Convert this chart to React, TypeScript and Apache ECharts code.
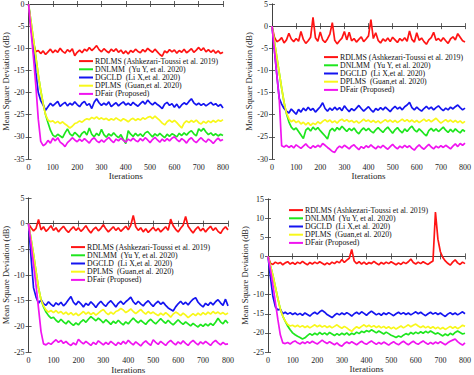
import React, { useEffect, useRef } from "react";
import * as echarts from "echarts";

const METHODS = [
  "RDLMS (Ashkezari-Toussi et al. 2019)",
  "DNLMM  (Yu Y, et al. 2020)",
  "DGCLD  (Li X,et al. 2020)",
  "DPLMS  (Guan,et al. 2020)",
  "DFair (Proposed)",
];
const COLORS = ["#ff1414", "#1ee61e", "#1414f0", "#f8f81a", "#f014f0"];

// iterations 0..800 sampled every 10
const ITERATIONS = Array.from({ length: 81 }, (_, i) => i * 10);
const X_TICKS = [0, 100, 200, 300, 400, 500, 600, 700, 800];

// ---------- Panel 1 (top-left) ----------
const P1_RDLMS = [0,-5.5,-9,-10.8,-10.5,-11.2,-10.6,-11.4,-10.8,-10.2,-11,-10.4,-10.9,-10,-10.7,-11.1,-10.3,-10.8,-10.1,-11.7,-10.9,-10.4,-11,-10.2,-10.6,-9.8,-10.5,-10,-9.4,-10.3,-10.8,-10.1,-10.6,-11,-10.2,-10.7,-10.1,-10.9,-10.4,-11.2,-10.6,-11.3,-10.5,-10.9,-10.2,-10.7,-11,-10.3,-10.8,-10,-10.5,-10.9,-10.2,-10.8,-11.4,-11.8,-10.6,-11,-10.3,-10.8,-10.4,-11.1,-10.5,-10.9,-10.2,-11,-10.6,-10.1,-10.9,-10.4,-9.8,-10.5,-9.9,-10.8,-10.3,-10.9,-10.4,-11.1,-10.6,-11.2,-10.9];
const P1_DNLMM = [0,-4,-8,-12,-16,-19.5,-22.5,-25,-26.8,-28.5,-29.6,-30,-29.4,-29.8,-30.2,-29.1,-28.2,-29.3,-29.8,-29,-29.5,-30.1,-29.2,-28.8,-29.6,-28,-29.4,-30,-29.2,-29.7,-28.3,-29.5,-30.1,-29.3,-29.8,-29.1,-29.7,-30.2,-29.5,-30.6,-31.5,-28.6,-29.4,-29.9,-29.2,-29.8,-29.3,-29.9,-29.1,-28.8,-29.4,-30,-29.3,-29.8,-29.2,-29.7,-30.2,-29.4,-29.9,-29.3,-29.6,-30,-29.2,-29.7,-29.1,-29.6,-29,-28.6,-29.3,-29.8,-28.2,-28.7,-28.1,-28.9,-29.5,-29.1,-29.7,-29.3,-29.8,-29.4,-29.7];
const P1_DGCLD = [0,-5,-10,-15.5,-20,-21.8,-22.8,-24,-23.2,-22.4,-23,-22.5,-22,-23.1,-22.6,-22.2,-23,-22.4,-22.8,-22.1,-22.7,-23.2,-22.4,-22,-22.9,-22.5,-23.6,-22.2,-21.4,-22.3,-22.9,-22.4,-22.8,-22.1,-23.2,-22.7,-22.3,-23,-22.5,-22.1,-22.8,-22.4,-22.9,-22.2,-22.7,-23.1,-22.5,-22,-22.6,-21.7,-22.3,-22.8,-22.2,-22.7,-23.1,-23.6,-22.6,-22.2,-22.9,-22.5,-23.3,-22.6,-23.5,-22.8,-22.3,-22.7,-22,-21.4,-22.3,-22.8,-22.4,-22.9,-22.5,-23,-22.6,-22.2,-22.8,-22.5,-23.1,-22.7,-23.5];
const P1_DPLMS = [0,-4,-8,-12,-16,-19.5,-22.5,-25,-26.2,-26.6,-26.4,-26.9,-26.5,-27,-26.6,-27.1,-27.5,-28,-27.6,-27,-26.8,-26.4,-26.7,-26.2,-25.9,-26.1,-25.6,-25.9,-25.5,-26,-25.7,-26.1,-25.8,-26.3,-25.9,-26.2,-25.7,-26.1,-26.4,-25.9,-26.2,-26.6,-26.1,-25.8,-26.3,-25.9,-26.2,-25.7,-26,-25.6,-25.4,-25.9,-25.3,-25.8,-26.3,-26.9,-27.3,-26.6,-26.2,-26.7,-26.3,-26.8,-27.4,-28,-26.9,-26.4,-26.8,-26.3,-26.7,-26.2,-26.8,-27.1,-26.5,-26.9,-26.4,-26.8,-26.3,-26.7,-26.2,-26.5,-26.1];
const P1_DFAIR = [0,-6,-12,-18.5,-26,-31,-32,-31.6,-30.8,-31.4,-30.3,-30.9,-30.2,-31.2,-31.6,-32.2,-31.3,-30.8,-30.2,-30.7,-31.1,-30.5,-31,-30.4,-30.9,-31.4,-30.6,-30.2,-30.9,-31.3,-30.7,-31.2,-30.6,-30.1,-30.8,-31.3,-30.5,-30.9,-30.3,-30.8,-31.2,-30.5,-30.9,-30.3,-30.8,-31.1,-30.4,-30.9,-30.2,-30.7,-31.3,-30.6,-30.1,-30.7,-31.2,-30.5,-31,-30.4,-30.9,-30.3,-30,-30.6,-31.1,-30.4,-30.8,-31.4,-30.6,-30.2,-30.9,-31.3,-30.7,-30.2,-30.8,-31.2,-30.5,-30.9,-31.5,-30.8,-30.3,-30.9,-30.6];

// ---------- Panel 2 (top-right) ----------
const P2_RDLMS = [0,-2.5,-3.5,-3.2,-2.6,-3.8,-3.1,-1.6,-2.9,-3.5,-2.8,-3.4,-1.2,-3,-3.9,-3.3,-2.5,2,-2.6,-3.4,-1.3,-3.1,-3.7,-2.9,-1.8,0.8,-3.2,-4,-3.3,-2.7,-1.2,-3.1,-1.4,-3.3,-2.8,-3.6,-3,-2.4,-3.5,-2.9,-2.2,1.5,-2.8,-1.5,-3.2,-3.8,-2.9,-3.4,-2.7,-3.5,-2.5,-3.1,-3.7,-2.8,-3.3,-2.6,-3.4,-1.1,-3,-3.6,-1.5,-3.2,-2.7,-3.5,-4.1,-3.1,-2.6,-1.4,-3.2,-2.8,-3.4,-2.6,-3.3,-3.9,-2.9,-2.4,-3.1,-1.7,-2.5,-3.3,-3.6];
const P2_DNLMM = [0,-3.5,-7,-10.5,-14,-17.2,-19.8,-21.6,-22.8,-23.4,-23,-23.8,-24.6,-25.4,-23.5,-23,-23.7,-22.8,-23.4,-22.9,-23.6,-24.2,-24.8,-25.5,-23.6,-23.1,-23.7,-22.9,-23.4,-22.6,-23.2,-23.8,-23.1,-23.6,-23,-23.8,-24.3,-23.5,-23,-23.6,-23.1,-23.7,-24.1,-23.4,-22.9,-23.5,-24,-23.3,-22.8,-23.5,-24.2,-23.4,-22.9,-23.6,-24.1,-23.2,-23.8,-23.1,-22.6,-23.4,-23.9,-23.2,-23.7,-24.3,-24.8,-23.6,-23.1,-23.7,-23.2,-23.8,-23.3,-22.8,-23.5,-24,-23.3,-23.9,-23.2,-23.7,-24.1,-23.4,-23.8];
const P2_DGCLD = [0,-5.5,-11,-16.3,-17.6,-18.6,-19.2,-19.6,-18.7,-19.3,-19.9,-18.8,-19.4,-18.5,-19.1,-18.3,-19,-18.6,-19.4,-18.8,-18.2,-17.3,-18.6,-19.2,-18.5,-19,-18.3,-18.9,-18.4,-19.1,-18,-18.7,-19.3,-18.6,-19.1,-18.5,-17.9,-18.6,-19.2,-18.7,-18.2,-18.9,-19.4,-18.6,-19,-18.4,-18.9,-18.3,-18.8,-19.3,-18.6,-18.1,-18.7,-18.3,-18.9,-18.2,-17.8,-17.2,-18.4,-18.9,-18.3,-18.8,-19.2,-18.6,-18.1,-18.7,-18.3,-18.9,-18.4,-18,-18.6,-19.1,-18.5,-18.9,-18.3,-18.7,-18.2,-17.8,-18.4,-18.9,-18.5];
const P2_DPLMS = [0,-3.5,-7,-10.5,-14,-17.2,-19.6,-20.9,-21.6,-21.2,-21.8,-21.4,-22.1,-21.7,-22.3,-21.8,-22.4,-21.9,-22.2,-21.6,-22,-21.5,-21.1,-21.6,-21.2,-21.8,-21.4,-21.9,-21.3,-21,-21.5,-21.1,-21.6,-21.3,-21.8,-21.4,-21.9,-21.5,-21,-21.5,-21.2,-21.7,-21.3,-21.8,-21.4,-21.9,-21.5,-21.1,-21.6,-21.2,-21.7,-21.3,-21.8,-21.4,-21,-21.5,-21.1,-21.6,-21.2,-21.7,-21.3,-21.8,-21.4,-21,-21.5,-21.1,-21.6,-21.2,-20.8,-21.4,-21.9,-21.5,-21.1,-21.6,-21.2,-21.7,-21.3,-21.8,-21.4,-21.9,-21.5];
const P2_DFAIR = [0,-5.5,-11,-16.5,-27,-27.3,-26.9,-27.4,-27,-27.5,-26.8,-27.2,-27.6,-27.1,-26.6,-27.2,-27.6,-27,-27.4,-26.9,-27.3,-26.5,-26.9,-27.4,-27.8,-28.3,-28.5,-27.6,-27.1,-27.5,-26.9,-27.3,-27.7,-27.1,-26.8,-27.4,-27.9,-27.2,-27.6,-27,-27.4,-26.8,-27.3,-27.7,-27.1,-27.5,-26.9,-27.4,-27.8,-27.2,-26.7,-27.3,-27.7,-27.1,-27.5,-26.9,-27.4,-27,-27.6,-28,-27.3,-26.8,-27.4,-27.8,-27.2,-26.7,-27.3,-27.7,-27.1,-27.5,-27,-27.4,-26.9,-27.3,-27.7,-27.1,-26.6,-27.2,-26.5,-26.9,-26.4];

// ---------- Panel 3 (bottom-left) ----------
const P3_RDLMS = [0,-0.8,-1.4,-0.9,0.8,-1.2,-0.6,-1.5,-1,-0.4,-1.3,-0.8,-1.6,-1,-0.5,-1.2,-1.7,-1.1,-0.6,-1.3,-0.8,-1.5,-1,-0.4,-1.2,-1.8,-1.1,-0.7,-1.4,-0.9,-0.2,-1,-1.6,-1.1,-0.6,-1.3,-0.8,-1.5,-1,-0.5,-1.2,-0.3,1.6,-0.6,-1.3,-0.8,-1.6,-1,-1.7,-1.2,-0.7,-1.4,-0.9,-1.6,-1.1,-0.6,-1.3,0.9,-0.4,-1.1,-1.6,-0.9,-0.3,1.4,-0.5,-1.2,-1.8,-1.1,-0.6,-1.4,-0.9,-1.6,-1,-0.5,-1.3,-0.8,-1.5,-1.9,-1.1,-0.6,-1.2];
const P3_DNLMM = [0,-3,-6,-9.3,-12.5,-14.8,-16.2,-17.2,-17.9,-18.4,-18.2,-18.8,-19.2,-18.6,-19.1,-19.5,-18.9,-19.4,-19.8,-19.3,-19.7,-19.1,-18.7,-19.2,-18.6,-18.1,-18.5,-18.9,-18.4,-18.8,-19.3,-18.7,-19.1,-19.6,-19,-19.4,-18.8,-19.3,-19.7,-19.1,-19.5,-18.9,-18.4,-18.9,-19.3,-18.8,-19.2,-19.6,-19,-18.6,-19.1,-19.5,-19,-18.5,-19,-19.4,-18.8,-19.3,-19.7,-19.2,-18.7,-19.2,-19.6,-19.1,-19.5,-19.9,-19.4,-19.8,-20.1,-19.6,-20,-19.5,-19.9,-19.4,-19.8,-19.2,-18.4,-19.1,-19.5,-18.8,-19.4];
const P3_DGCLD = [0,-6.5,-12.5,-14.3,-15.5,-14.8,-15.6,-15.9,-15.2,-15.7,-16.1,-15.4,-15.8,-15.3,-16,-15.5,-14.8,-14.2,-15.3,-15.8,-15.1,-15.6,-16.2,-15.5,-15.9,-15.2,-15.7,-16.3,-15.6,-15.1,-15.7,-16.1,-15.4,-15,-15.6,-16.2,-15.5,-15.1,-15.7,-15.2,-14.8,-14.3,-15.2,-15.7,-15.1,-15.6,-16,-15.4,-15,-15.6,-16.1,-15.5,-15.1,-15.7,-15.3,-15.9,-16.4,-16.7,-17,-16.2,-15.6,-15.1,-15.7,-15.3,-15.8,-15.2,-14.7,-14.4,-15.3,-15.8,-16.2,-15.5,-15.9,-15.3,-15.8,-15.2,-14.8,-15.4,-15.9,-14.7,-16];
const P3_DPLMS = [0,-3,-6,-9.3,-12.5,-14.8,-16,-16.8,-17.2,-16.9,-17.3,-16.9,-17.4,-17.1,-17.6,-17.2,-17.7,-17.3,-17.8,-17.4,-17.9,-17.5,-17.1,-17.6,-17.2,-17.7,-17.3,-17.8,-17.4,-17,-16.7,-17.3,-17.7,-17.2,-17.6,-17.1,-16.9,-16.5,-16.8,-17.3,-17,-16.6,-17.1,-17.5,-17.1,-16.7,-17.2,-17.6,-17.1,-17.5,-17.2,-17.6,-17.9,-17.4,-17.8,-17.3,-17.7,-18.2,-17.6,-17.2,-17.5,-17.9,-17.4,-17.8,-18.3,-17.9,-17.5,-17.9,-17.4,-17.8,-17.3,-17.7,-17.2,-17.6,-17.1,-17.5,-17.2,-17.6,-17.3,-17.7,-17.4];
const P3_DFAIR = [0,-4,-8,-12,-16.5,-21,-23.4,-23.6,-23.2,-23.5,-23,-22.6,-23.1,-22.7,-23.3,-22.9,-23.4,-23.7,-23.2,-23.6,-22.5,-23,-23.4,-22.9,-23.3,-23.7,-23.1,-23.5,-22.8,-23.2,-23.6,-23.1,-23.5,-22.9,-23.3,-23.7,-23.1,-23.5,-22.9,-23.4,-22.7,-23.2,-23.6,-23,-23.4,-23.8,-23.2,-22.8,-23.3,-23.7,-22.6,-23.1,-23.5,-22.9,-23.3,-23.7,-23.1,-22.7,-23.2,-23.6,-23,-23.4,-22.8,-23.3,-23.7,-23.1,-22.7,-23.2,-23.6,-23,-23.4,-22.9,-23.3,-23.7,-23.1,-22.7,-23.2,-23.6,-23.1,-23.5,-23.4];

// ---------- Panel 4 (bottom-right) ----------
const P4_RDLMS = [0,-1.8,-2.1,-1.5,-1.9,-1.6,-2.2,-1.7,-1.4,-2,-1.6,-2.1,-1.5,-1.9,-1.3,-1.8,-2.2,-1.6,-2,-1.5,-1.9,-1.4,-1.8,-2.2,-1.7,-2.1,-1.5,-1.9,-1.3,-1.7,-0.8,-1.6,-1,-0.5,1.8,-1.2,-1.9,-1.4,-2,-1.5,-2.1,-1.6,-1.9,-1.3,-1.8,-2.2,-1.6,-2,-1.5,-1.9,-1.4,-1.8,-2.2,-1.7,-2.1,-1.5,-1.9,-1.4,-0.7,-1.6,-2,-1.5,-1.9,-1.4,-1.8,-2.1,-1.6,-1.2,11.6,4.5,1.2,-0.3,-1.2,-1.8,-2.3,-1.5,-0.9,-1.7,-2.1,-1.5,-1.9];
const P4_DNLMM = [0,-2.5,-5,-8,-11,-13.8,-15.6,-17,-18.2,-19.2,-20,-20.5,-20.9,-21.2,-21.6,-21.3,-20.7,-20.2,-20.6,-20.1,-20.5,-19.9,-20.4,-20,-20.5,-19.9,-20.3,-20.7,-20.2,-20.6,-20.1,-20.5,-20,-20.6,-20.1,-20.4,-19.8,-20.2,-19.6,-19.9,-19.4,-19.7,-19.2,-19.6,-20,-19.5,-19.9,-20.3,-19.8,-20.2,-20.6,-20.9,-21.2,-20.8,-21.1,-20.6,-20.2,-20.5,-19.9,-20.3,-19.8,-20.2,-19.7,-20.1,-19.6,-20,-19.5,-19.9,-20.3,-20,-20.4,-20.8,-20.3,-20.7,-20.1,-20.5,-19.9,-19.5,-19.9,-20.3,-20.1];
const P4_DGCLD = [0,-5.5,-10.5,-13.2,-14,-13.8,-15,-14.6,-15.1,-14.7,-15.2,-14.8,-15.3,-14.9,-15.4,-14.8,-15.2,-15.6,-15,-14.6,-15.1,-14.5,-14.1,-14.6,-15.2,-15.6,-16,-15.4,-14.9,-15.3,-14.8,-15.2,-14.7,-15.1,-15.6,-15,-14.6,-15.1,-14.5,-14.9,-15.4,-14.8,-14.3,-14.8,-15.3,-14.9,-15.4,-14.8,-15.2,-14.7,-15.1,-15.5,-15,-14.6,-15.1,-14.7,-15.2,-14.8,-15.3,-14.9,-14.5,-15,-14.6,-15.1,-15.5,-15,-14.6,-15.1,-14.7,-15.2,-14.8,-15.3,-15.7,-15.1,-14.7,-15.2,-14.8,-15.3,-14.9,-14.5,-15];
const P4_DPLMS = [0,-2.5,-5,-8,-11,-13.8,-15.6,-16.9,-17.8,-18.2,-18,-18.4,-18,-18.5,-18.1,-18.6,-18.2,-18.7,-18.3,-17.9,-18.4,-18,-18.5,-18.1,-18.6,-18.2,-18.7,-18.3,-17.9,-18.4,-18.8,-18.3,-18.7,-19.2,-19.6,-18.9,-18.4,-18.8,-18.3,-17.9,-18.4,-18,-18.5,-18.1,-18.6,-18.2,-18.7,-18.3,-18.8,-18.4,-18.9,-18.5,-19,-18.6,-18.2,-18.7,-18.3,-17.9,-18.4,-18,-17.7,-18.2,-18.6,-18.2,-18.7,-18.3,-18.8,-18.4,-18.9,-18.5,-19,-18.6,-19.1,-18.7,-18.3,-18.8,-18.4,-18.9,-18.5,-18,-18.3];
const P4_DFAIR = [0,-3.5,-7.5,-12,-16.5,-20.5,-22.6,-22.8,-22.5,-22.9,-22.4,-22.1,-22.6,-22.9,-22.4,-22.8,-22.3,-22.7,-22.2,-22.6,-22.9,-22.4,-21.9,-22.4,-22.8,-22.3,-22.7,-23.1,-22.6,-23.2,-23.5,-22.8,-22.4,-22.8,-22.3,-22.7,-23.1,-22.6,-22.2,-22.7,-23,-22.5,-22.1,-22.6,-23,-22.5,-22.9,-22.4,-22.8,-23.2,-22.7,-22.3,-22.8,-23.1,-22.6,-22.2,-22.7,-23.1,-22.6,-22.2,-22.7,-23,-22.5,-22.1,-22.6,-23,-22.5,-22.9,-22.4,-22.8,-22.3,-22.7,-23.1,-22.6,-22.2,-21.9,-21.6,-22.3,-22.8,-23.2,-22.6];

const PANEL_SERIES = [
  [P1_RDLMS, P1_DNLMM, P1_DGCLD, P1_DPLMS, P1_DFAIR],
  [P2_RDLMS, P2_DNLMM, P2_DGCLD, P2_DPLMS, P2_DFAIR],
  [P3_RDLMS, P3_DNLMM, P3_DGCLD, P3_DPLMS, P3_DFAIR],
  [P4_RDLMS, P4_DNLMM, P4_DGCLD, P4_DPLMS, P4_DFAIR],
];
const Y_RANGES = [
  [-35, 0],
  [-30, 5],
  [-25, 5],
  [-25, 15],
];
const Y_STEP = 5;

const GRIDS = [
  { left: 26, top: 4, width: 197, height: 155 },
  { left: 272, top: 4, width: 196, height: 155 },
  { left: 22, top: 198, width: 206, height: 155 },
  { left: 268, top: 199, width: 197, height: 153 },
];
const LEGEND_POS = [
  { left: 79, top: 57 },
  { left: 324, top: 53 },
  { left: 71, top: 243 },
  { left: 289, top: 206 },
];

const FONT = '"Liberation Serif", "Times New Roman", serif';
const AXIS_COLOR = "#3a3a3a";

export default function App() {
  const ref = useRef<HTMLDivElement>(null);
  useEffect(() => {
    if (!ref.current) return;
    const chart = echarts.init(ref.current, null, { renderer: "svg" });
    const xAxis: any[] = [];
    const yAxis: any[] = [];
    const series: any[] = [];
    const legend: any[] = [];
    GRIDS.forEach((_, p) => {
      const [ymin, ymax] = Y_RANGES[p];
      const common = {
        gridIndex: p,
        axisLine: { show: true, lineStyle: { color: AXIS_COLOR, width: 0.8 } },
        axisTick: { show: true, inside: true, length: 3, lineStyle: { color: AXIS_COLOR, width: 0.8 } },
        splitLine: { show: false },
      };
      xAxis.push({
        ...common,
        type: "value",
        min: X_TICKS[0],
        max: X_TICKS[X_TICKS.length - 1],
        interval: 100,
        position: "bottom",
        name: "Iterations",
        nameLocation: "middle",
        nameGap: 12,
        nameTextStyle: { fontFamily: FONT, fontSize: 9, color: "#222" },
        axisLabel: { fontFamily: FONT, fontSize: 8, color: "#222", margin: 4 },
      });
      xAxis.push({
        ...common,
        type: "value",
        min: X_TICKS[0],
        max: X_TICKS[X_TICKS.length - 1],
        interval: 100,
        position: "top",
        axisLabel: { show: false },
      });
      yAxis.push({
        ...common,
        type: "value",
        min: ymin,
        max: ymax,
        interval: Y_STEP,
        position: "left",
        name: "Mean Square Deviation (dB)",
        nameLocation: "middle",
        nameGap: 14,
        nameTextStyle: { fontFamily: FONT, fontSize: 8.5, color: "#222" },
        axisLabel: { fontFamily: FONT, fontSize: 8, color: "#222", margin: 4 },
      });
      yAxis.push({
        ...common,
        type: "value",
        min: ymin,
        max: ymax,
        interval: Y_STEP,
        position: "right",
        axisLabel: { show: false },
      });
      PANEL_SERIES[p].forEach((vals, m) => {
        series.push({
          type: "line",
          name: METHODS[m],
          xAxisIndex: p * 2,
          yAxisIndex: p * 2,
          data: ITERATIONS.map((x, i) => [x, vals[i]]),
          showSymbol: false,
          symbol: "none",
          lineStyle: { width: 1.7, color: COLORS[m] },
          itemStyle: { color: COLORS[m] },
          emphasis: { disabled: true },
          z: 2 + m,
        });
      });
      legend.push({
        left: LEGEND_POS[p].left,
        top: LEGEND_POS[p].top,
        orient: "vertical",
        padding: 0,
        itemGap: 0,
        itemWidth: 14,
        itemHeight: 2,
        icon: "rect",
        selectedMode: false,
        data: METHODS,
        textStyle: { fontFamily: FONT, fontSize: 7.8, color: "#111", lineHeight: 8.2, padding: [0, 0, 0, -3] },
      });
    });
    chart.setOption({
      animation: false,
      backgroundColor: "#ffffff",
      grid: GRIDS.map((g) => ({ ...g, containLabel: false })),
      xAxis,
      yAxis,
      legend,
      series,
    });
    return () => chart.dispose();
  }, []);
  return (
    <div
      ref={ref}
      style={{ position: "fixed", left: 0, top: 0, width: 474, height: 375 }}
    />
  );
}
